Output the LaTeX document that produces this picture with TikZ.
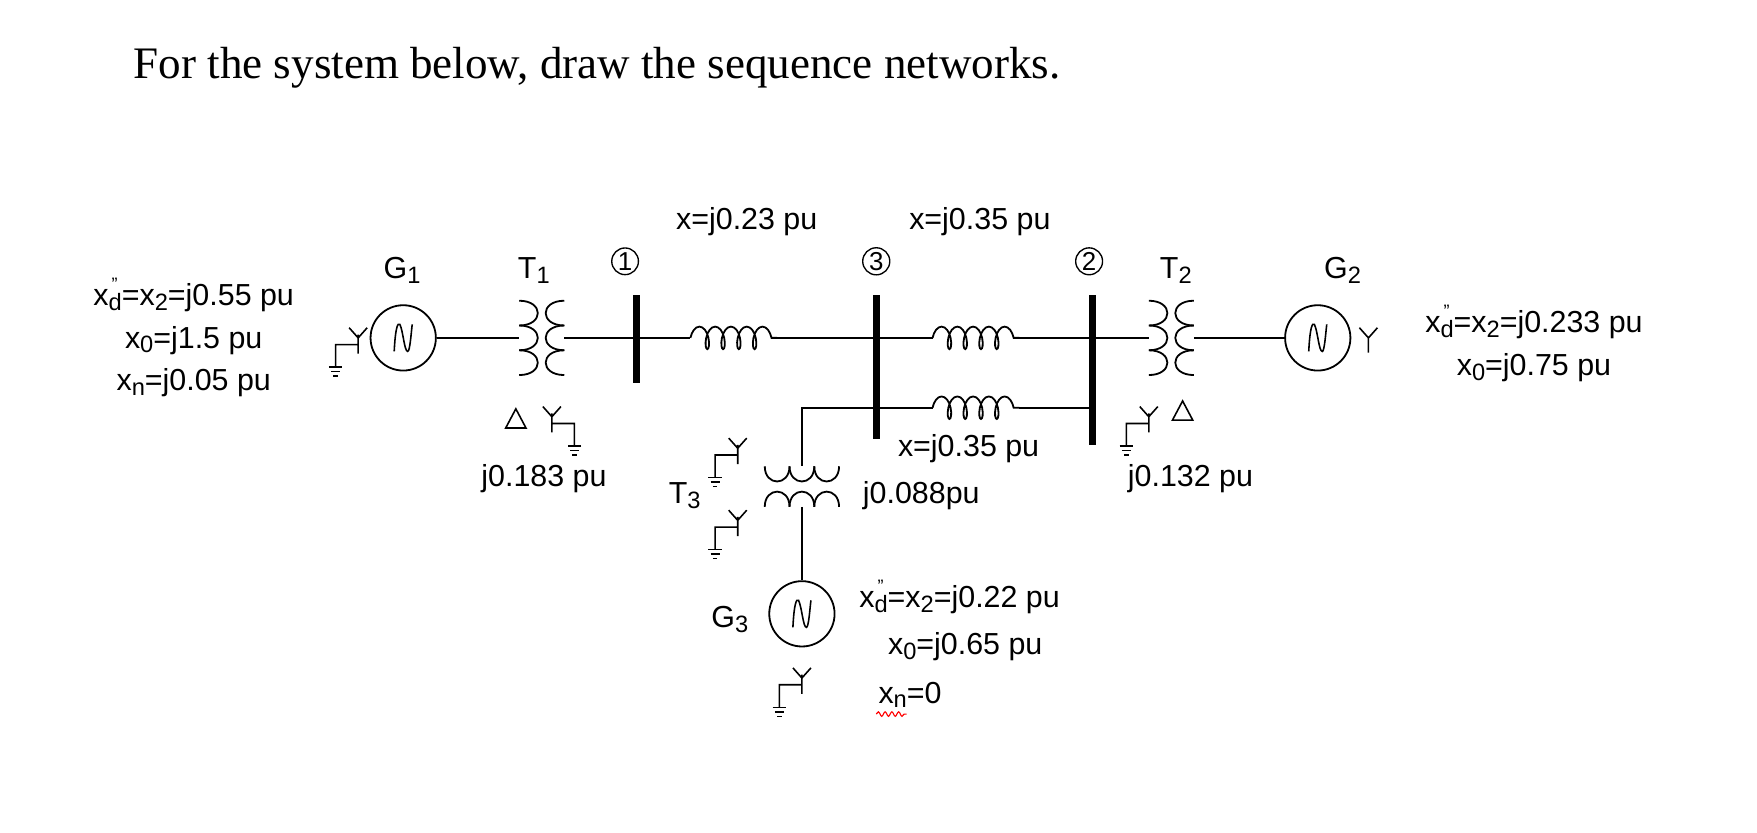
\documentclass[tikz,border=0pt]{standalone}
\usepackage{fontspec}
\setmainfont{Liberation Sans}
\newfontfamily\seriff{Liberation Serif}
\usetikzlibrary{decorations.pathmorphing}
\newcommand{\sbs}[1]{\raisebox{-0.3ex}{\fontsize{10.5}{11}\selectfont #1}}
\newcommand{\xdd}{x\rlap{\raisebox{0.9ex}{\fontsize{8}{8}\selectfont\,''}}\sbs{d}}
\begin{document}
\begin{tikzpicture}[x=0.5pt,y=-0.5pt,line width=0.8pt,
  lbl/.style={font=\fontsize{13.5}{15}\selectfont,inner sep=0pt},
  bus/.style={line width=3pt},
  busno/.style={draw,circle,inner sep=0.6pt,line width=0.6pt,font=\fontsize{11.5}{11.5}\selectfont},
  coilL/.style={decorate,decoration={coil,aspect=0.45,segment length=7pt,amplitude=5pt}},
  gen/.style={draw,circle,minimum size=29pt,inner sep=0pt},
  pics/sine/.style={code={\draw[line width=0.7pt] (-8,12) .. controls (-7,-8) and (-5,-14) .. (-3,-12) .. controls (0,-6) and (1,12) .. (4,12) .. controls (6,12) and (7,-4) .. (8,-12);}},
  pics/ygnd/.style={code={
    \draw[line width=0.7pt] (0,0)--(-8,-9) (0,0)--(8,-9) (0,-3)--(0,14) (0,6)--(-20,6)--(-20,26);
    \draw[line width=0.7pt] (-26,26)--(-14,26) (-24,30)--(-16,30) (-22,34)--(-18,34);}},
  pics/ysym/.style={code={\draw[line width=0.7pt] (0,0)--(-8,-9) (0,0)--(8,-9) (0,0)--(0,13);}},
  pics/delta/.style={code={\draw[line width=0.7pt] (-9,8)--(0,-9)--(9,8)--cycle;}},
  pics/xfv/.style={code={
    \foreach \k in {0,1,2}{
      \pgfmathsetmacro{\ya}{-33+22*\k}\pgfmathsetmacro{\yb}{-11+22*\k}
      \draw[line width=0.8pt] (-20,\ya) .. controls (2,\ya) and (2,\yb) .. (-20,\yb);
      \draw[line width=0.8pt] (20,\ya) .. controls (-2,\ya) and (-2,\yb) .. (20,\yb);}}},
  pics/xfh/.style={code={
    \foreach \k in {0,1,2}{
      \pgfmathsetmacro{\xa}{-33+22*\k}\pgfmathsetmacro{\xb}{-11+22*\k}
      \draw[line width=0.8pt] (\xa,-18) .. controls (\xa,0) and (\xb,0) .. (\xb,-18);
      \draw[line width=0.8pt] (\xa,18) .. controls (\xa,0) and (\xb,0) .. (\xb,18);}}}
]
\useasboundingbox (0,0) rectangle (1560,739);
\node[font=\seriff\fontsize{20}{22}\selectfont,anchor=west,inner sep=0pt] (title) at (118,60) {For the system below, draw the sequence networks.};

\node[gen] (g1) at (358,300) {}; \pic at (g1) {sine};
\node[gen] (g2) at (1170,300) {}; \pic at (g2) {sine};
\node[gen] (g3) at (712,545) {}; \pic at (g3) {sine};
\coordinate (t1) at (481,300); \pic at (t1) {xfv};
\coordinate (t2) at (1040,300); \pic at (t2) {xfv};
\coordinate (t3) at (712,432); \pic at (t3) {xfh};
\coordinate (t1l) at (461,300); \coordinate (t1r) at (501,300);
\coordinate (t2l) at (1020,300); \coordinate (t2r) at (1060,300);
\coordinate (t3t) at (712,414); \coordinate (t3b) at (712,450);
\coordinate (b1t) at (565,262); \coordinate (b1b) at (565,340);
\coordinate (b3t) at (778,262); \coordinate (b3b) at (778,390);
\coordinate (b2t) at (970,262); \coordinate (b2b) at (970,395);
\draw[bus] (b1t)--(b1b); \draw[bus] (b3t)--(b3b); \draw[bus] (b2t)--(b2b);
\coordinate (b1) at (565,300); \coordinate (b3) at (778,300); \coordinate (b2) at (970,300);
\coordinate (b3l) at (778,362); \coordinate (b2l) at (970,362);
\coordinate (c1a) at (613,300); \coordinate (c1b) at (690,300);
\coordinate (c2a) at (828,300); \coordinate (c2b) at (905,300);
\coordinate (c3a) at (828,362); \coordinate (c3b) at (905,362);
\coordinate (k) at (712,362);

\draw (g1)--(t1l); \draw (t1r)--(b1)--(c1a);
\draw[coilL] (c1a)--(c1b); \draw (c1b)--(b3)--(c2a);
\draw[coilL] (c2a)--(c2b); \draw (c2b)--(b2)--(t2l);
\draw (t2r)--(g2);
\draw (b3l)--(c3a); \draw[coilL] (c3a)--(c3b); \draw (c3b)--(b2l);
\draw (b3l)--(k)--(t3t);
\draw (t3b)--(g3);

\node[busno] (n1) at (555,232) {1};
\node[busno] (n3) at (778,232) {3};
\node[busno] (n2) at (967,232) {2};

\pic at (318,300) {ygnd};
\pic at (458,372) {delta};
\pic[xscale=-1] at (490,370) {ygnd};
\pic at (1020,370) {ygnd};
\pic at (1050,365) {delta};
\pic at (1215,300) {ysym};
\pic at (655,398) {ygnd};
\pic at (655,462) {ygnd};
\pic at (712,602) {ygnd};

\node[lbl] (lg1) at (357,240) {G\sbs{1}};
\node[lbl] (lt1) at (474,240) {T\sbs{1}};
\node[lbl] (lt2) at (1044,240) {T\sbs{2}};
\node[lbl] (lg2) at (1192,240) {G\sbs{2}};
\node[lbl] (lt3) at (608,440) {T\sbs{3}};
\node[lbl] (lg3) at (648,550) {G\sbs{3}};
\node[lbl] (x1) at (663,197) {x=j0.23 pu};
\node[lbl] (x2) at (870,197) {x=j0.35 pu};
\node[lbl] (x3) at (860,398) {x=j0.35 pu};
\node[lbl] (xt1) at (483,425) {j0.183 pu};
\node[lbl] (xt2) at (1057,425) {j0.132 pu};
\node[lbl] (xt3) at (818,440) {j0.088pu};
\node[lbl,align=center] (lg1p) at (172,300) {\xdd=x\sbs{2}=j0.55 pu\\[4pt]x\sbs{0}=j1.5 pu\\[4pt]x\sbs{n}=j0.05 pu};
\node[lbl,align=center] (lg2p) at (1362,305) {\xdd=x\sbs{2}=j0.233 pu\\[4pt]x\sbs{0}=j0.75 pu};
\node[lbl] (lg3p) at (852,530) {\xdd=x\sbs{2}=j0.22 pu};
\node[lbl] (lg3q) at (857,574) {x\sbs{0}=j0.65 pu};
\node[lbl] (lg3r) at (808,617) {x\sbs{n}=0};
\draw[red,line width=0.5pt,decorate,decoration={snake,amplitude=1pt,segment length=3pt}] (778,634)--(805,634);
\end{tikzpicture}
\end{document}
